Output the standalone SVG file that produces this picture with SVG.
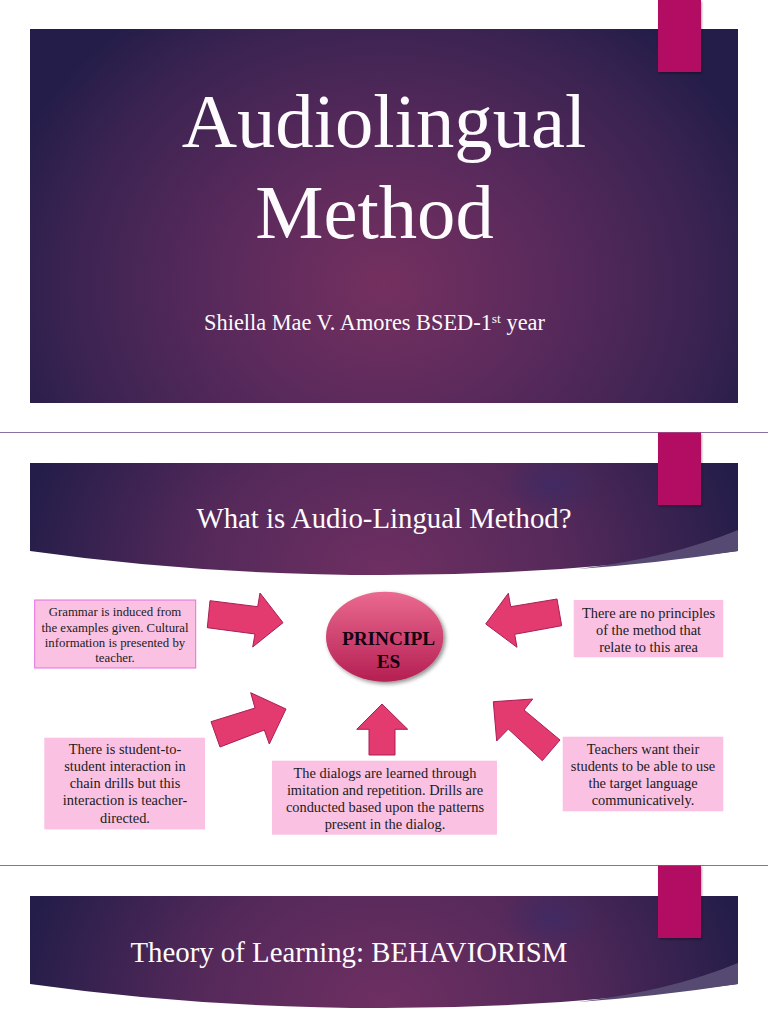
<svg xmlns="http://www.w3.org/2000/svg" width="768" height="1024" viewBox="0 0 768 1024">
<style>
text{font-family:"Liberation Serif","Times New Roman",serif;text-anchor:middle}
.w{fill:#fdfbfd}
.t{fill:#1c1c1c}
.s{font-size:12.8px}
.m{font-size:14.4px}
.box{fill:#fbc1e2}
.arrow{fill:#e33a6f;stroke:#a81f58;stroke-width:1}
.tab{fill:#b31163;filter:url(#sh)}
.rule{stroke:#8a70a0;stroke-width:1}
</style>
<defs>
<radialGradient id="g1" gradientUnits="userSpaceOnUse" cx="384" cy="285" r="400" gradientTransform="translate(384 285) scale(1 .85) translate(-384 -285)">
<stop offset="0" stop-color="#74305f"/><stop offset=".4" stop-color="#5a2a5c"/><stop offset=".8" stop-color="#3a2351"/><stop offset="1" stop-color="#251d49"/>
</radialGradient>
<radialGradient id="g2" gradientUnits="userSpaceOnUse" cx="384" cy="575" r="370" gradientTransform="translate(384 575) scale(1 .8) translate(-384 -575)">
<stop offset="0" stop-color="#6f2f62"/><stop offset=".5" stop-color="#54295a"/><stop offset="1" stop-color="#241d49"/>
</radialGradient>
<radialGradient id="g3" gradientUnits="userSpaceOnUse" cx="384" cy="1008" r="370" gradientTransform="translate(384 1008) scale(1 .8) translate(-384 -1008)">
<stop offset="0" stop-color="#6f2f62"/><stop offset=".5" stop-color="#54295a"/><stop offset="1" stop-color="#241d49"/>
</radialGradient>
<radialGradient id="spot"><stop offset="0" stop-color="#3f2a63" stop-opacity=".9"/><stop offset="1" stop-color="#3f2a63" stop-opacity="0"/></radialGradient>
<linearGradient id="el" x1="0" y1="0" x2="0" y2="1"><stop offset="0" stop-color="#ea6a90"/><stop offset="1" stop-color="#b41f52"/></linearGradient>
<filter id="sh" x="-20%" y="-20%" width="140%" height="140%"><feDropShadow dx="1" dy="1.5" stdDeviation="1.2" flood-color="#000" flood-opacity=".35"/></filter>
<filter id="sh2" x="-20%" y="-20%" width="140%" height="140%"><feDropShadow dx="2" dy="2" stdDeviation="2" flood-color="#000" flood-opacity=".45"/></filter>
<clipPath id="c2"><rect x="30" y="463" width="708" height="88"/></clipPath>
<clipPath id="c3"><rect x="30" y="896" width="708" height="88"/></clipPath>
</defs>
<rect width="768" height="1024" fill="#fff"/>

<g id="slide1">
<rect x="30" y="29" width="708" height="374" fill="url(#g1)"/>
<rect x="658" y="0" width="43" height="72" class="tab"/>
<text x="384" y="147" font-size="76.700" class="w">Audiolingual</text>
<text x="374.500" y="238" font-size="76.700" class="w">Method</text>
<text x="374.500" y="329.500" font-size="22.350" class="w">Shiella Mae V. Amores BSED-1<tspan font-size="13.500" dy="-7">st</tspan><tspan dy="7"> year</tspan></text>
</g>
<line x1="0" y1="432.500" x2="768" y2="432.500" class="rule"/>

<g id="slide2">
<path d="M30 463H738V551Q560 575 384 575Q200 575 30 551Z" fill="url(#g2)"/>
<ellipse cx="552" cy="485" rx="50" ry="32" fill="url(#spot)" clip-path="url(#c2)"/>
<path d="M738 530V551Q660 563 578 569Q670 558 738 530Z" fill="#574a72"/>
<rect x="658" y="432.500" width="43" height="72.500" class="tab"/>
<text x="384" y="527.500" font-size="28.800" class="w">What is Audio-Lingual Method?</text>
</g>

<g id="connectors">
<polygon class="arrow" points="210,600.700 257.700,606.700 260,593 283,622.700 252.700,647 255,634 207.300,627.700"/>
<polygon class="arrow" points="211,721.700 255,708 250.700,692.700 286,709 269.300,744 264.300,730 220,747"/>
<polygon class="arrow" points="369,755 369,729.300 356.700,729.300 382,704 407.700,729.300 395,729.300 395,755"/>
<polygon class="arrow" points="485.700,624 508.300,593.300 510.700,606.700 557,599 561.700,625.700 514.700,634.300 517,647.300"/>
<polygon class="arrow" points="493.300,701.700 532.700,699 524,710 560,740 542.300,760.700 508.300,729 496.700,741"/>
</g>

<g id="principles">
<ellipse cx="384.700" cy="636.700" rx="58.700" ry="45" fill="url(#el)" filter="url(#sh2)"/>
<text x="388.500" y="645" font-size="19.300" font-weight="700" fill="#120010">PRINCIPL</text>
<text x="388.500" y="668" font-size="19.300" font-weight="700" fill="#120010">ES</text>
</g>

<g id="box-grammar">
<rect x="34.700" y="600" width="161" height="68" class="box" stroke="#e46ce0" stroke-width="1"/>
<text x="115" y="616" class="s t">Grammar is induced from</text>
<text x="115" y="631.500" class="s t">the examples given. Cultural</text>
<text x="115" y="646.500" class="s t">information is presented by</text>
<text x="115" y="662" class="s t">teacher.</text>
</g>
<g id="box-student">
<rect x="44.300" y="737.700" width="160.700" height="91.700" class="box"/>
<text x="125" y="753.500" class="m t">There is student-to-</text>
<text x="125" y="771" class="m t">student interaction in</text>
<text x="125" y="788" class="m t">chain drills but this</text>
<text x="125" y="805" class="m t">interaction is teacher-</text>
<text x="125" y="823" class="m t">directed.</text>
</g>
<g id="box-dialogs">
<rect x="272" y="760.700" width="225" height="74" class="box"/>
<text x="385" y="777.500" class="m t">The dialogs are learned through</text>
<text x="385" y="794.500" class="m t">imitation and repetition. Drills are</text>
<text x="385" y="811.500" class="m t">conducted based upon the patterns</text>
<text x="385" y="828.500" class="m t">present in the dialog.</text>
</g>
<g id="box-none">
<rect x="573.700" y="600" width="149.600" height="57.300" class="box"/>
<text x="648.500" y="617.500" class="m t">There are no principles</text>
<text x="648.500" y="634.500" class="m t">of the method that</text>
<text x="648.500" y="651.500" class="m t">relate to this area</text>
</g>
<g id="box-teachers">
<rect x="562.700" y="736.700" width="160.600" height="74.600" class="box"/>
<text x="643" y="753.500" class="m t">Teachers want their</text>
<text x="643" y="770.500" class="m t">students to be able to use</text>
<text x="643" y="788" class="m t">the target language</text>
<text x="643" y="805" class="m t">communicatively.</text>
</g>
<line x1="0" y1="865.500" x2="768" y2="865.500" class="rule"/>

<g id="slide3">
<path d="M30 896H738V984Q560 1008 384 1008Q200 1008 30 984Z" fill="url(#g3)"/>
<ellipse cx="552" cy="918" rx="50" ry="32" fill="url(#spot)" clip-path="url(#c3)"/>
<path d="M738 963V984Q660 996 578 1002Q670 991 738 963Z" fill="#574a72"/>
<rect x="658" y="865.500" width="43" height="72.500" class="tab"/>
<text x="349" y="961.500" font-size="28.800" class="w">Theory of Learning: BEHAVIORISM</text>
</g>
</svg>
